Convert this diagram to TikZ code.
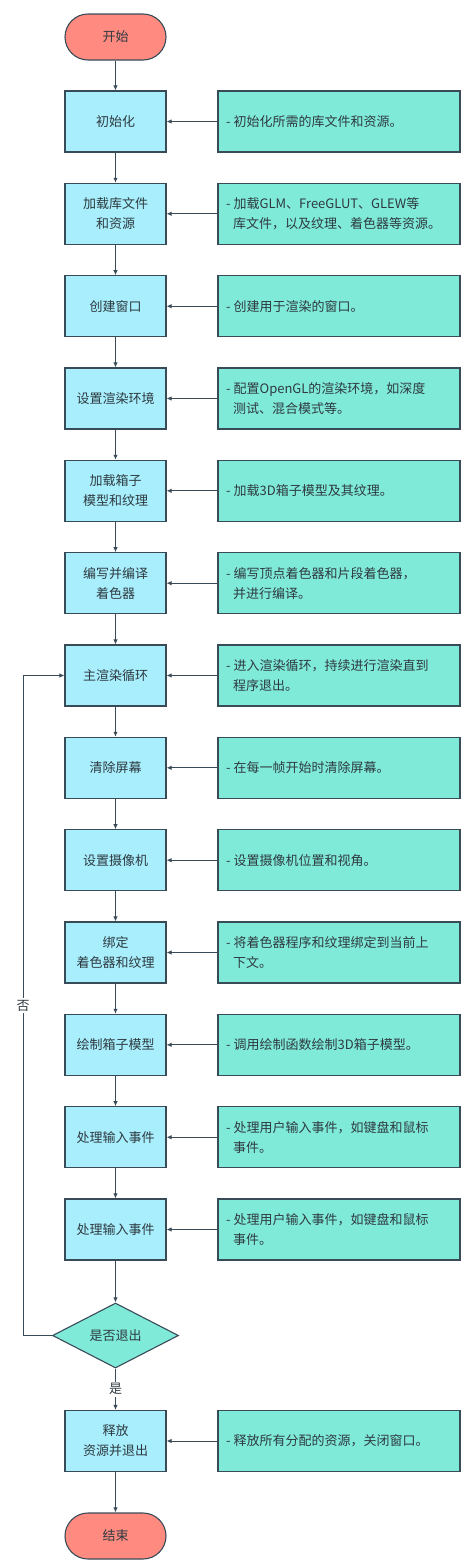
\documentclass[tikz,border=0pt]{standalone}
\usepackage{fontspec}
\setmainfont{Noto Sans CJK SC}
\usetikzlibrary{shapes.geometric,arrows.meta}
\definecolor{termred}{HTML}{FF8A80}
\definecolor{stepblue}{HTML}{A8EEFC}
\definecolor{notegreen}{HTML}{80EAD9}
\definecolor{edgegray}{HTML}{3A4B58}
\definecolor{textgray}{HTML}{2E3A40}
\tikzset{
  every node/.style={font=\fontsize{13pt}{20pt}\selectfont, text=textgray},
  term/.style={draw=edgegray, line width=1.1pt, fill=termred, rounded corners=23pt,
    minimum width=101pt, minimum height=46pt},
  stepbox/.style={draw=edgegray, line width=1.1pt, fill=stepblue, align=center,
    minimum width=101pt, minimum height=61pt, inner sep=2pt},
  notebox/.style={draw=edgegray, line width=1.1pt, fill=notegreen,
    minimum width=242pt, minimum height=61pt},
  notetext/.style={anchor=west, align=left, inner sep=0pt},
  choice/.style={diamond, draw=edgegray, line width=1.1pt, fill=notegreen, aspect=1.94,
    minimum width=126pt, minimum height=65pt, inner sep=0pt},
  flow/.style={draw=edgegray, line width=1pt, -{Latex[length=5pt,width=4.5pt]}},
  tag/.style={fill=white, inner sep=2pt}
}
\newcommand{\ind}{\hspace*{7pt}}
\begin{document}
\begin{tikzpicture}[x=1pt,y=-1pt]
	    \useasboundingbox (0,0) rectangle (474,1566);
	    % main column
	    \node[term] (start) at (115.5, 37) {开始};
	    \node[stepbox] (m1) at (115.5, 121.5) {初始化};
	    \node[stepbox] (m2) at (115.5, 213.8) {加载库文件\\和资源};
	    \node[stepbox] (m3) at (115.5, 306.2) {创建窗口};
	    \node[stepbox] (m4) at (115.5, 398.5) {设置渲染环境};
	    \node[stepbox] (m5) at (115.5, 490.8) {加载箱子\\模型和纹理};
	    \node[stepbox] (m6) at (115.5, 583.2) {编写并编译\\着色器};
	    \node[stepbox] (m7) at (115.5, 675.5) {主渲染循环};
	    \node[stepbox] (m8) at (115.5, 767.8) {清除屏幕};
	    \node[stepbox] (m9) at (115.5, 860.2) {设置摄像机};
	    \node[stepbox] (m10) at (115.5, 952.5) {绑定\\着色器和纹理};
	    \node[stepbox] (m11) at (115.5, 1044.8) {绘制箱子模型};
	    \node[stepbox] (m12) at (115.5, 1137.2) {处理输入事件};
	    \node[stepbox] (m13) at (115.5, 1229.5) {处理输入事件};
	    \node[choice] (quit) at (115.5, 1335.5) {是否退出};
	    \node[stepbox] (m14) at (115.5, 1441) {释放\\资源并退出};
	    \node[term] (stop) at (115.5, 1536) {结束};
	    % notes
	    \node[notebox] (n1) at (339, 121.5) {};
	    \node[notebox] (n2) at (339, 213.8) {};
	    \node[notebox] (n3) at (339, 306.2) {};
	    \node[notebox] (n4) at (339, 398.5) {};
	    \node[notebox] (n5) at (339, 490.8) {};
	    \node[notebox] (n6) at (339, 583.2) {};
	    \node[notebox] (n7) at (339, 675.5) {};
	    \node[notebox] (n8) at (339, 767.8) {};
	    \node[notebox] (n9) at (339, 860.2) {};
	    \node[notebox] (n10) at (339, 952.5) {};
	    \node[notebox] (n11) at (339, 1044.8) {};
	    \node[notebox] (n12) at (339, 1137.2) {};
	    \node[notebox] (n13) at (339, 1229.5) {};
	    \node[notebox] (n14) at (339, 1441) {};
	    \node[notetext] (t1) at (226, 121.5) {- 初始化所需的库文件和资源。};
	    \node[notetext] (t2) at (226, 213.8) {- 加载GLM、FreeGLUT、GLEW等\\\ind 库文件，以及纹理、着色器等资源。};
	    \node[notetext] (t3) at (226, 306.2) {- 创建用于渲染的窗口。};
	    \node[notetext] (t4) at (226, 398.5) {- 配置OpenGL的渲染环境，如深度\\\ind 测试、混合模式等。};
	    \node[notetext] (t5) at (226, 490.8) {- 加载3D箱子模型及其纹理。};
	    \node[notetext] (t6) at (226, 583.2) {- 编写顶点着色器和片段着色器，\\\ind 并进行编译。};
	    \node[notetext] (t7) at (226, 675.5) {- 进入渲染循环，持续进行渲染直到\\\ind 程序退出。};
	    \node[notetext] (t8) at (226, 767.8) {- 在每一帧开始时清除屏幕。};
	    \node[notetext] (t9) at (226, 860.2) {- 设置摄像机位置和视角。};
	    \node[notetext] (t10) at (226, 952.5) {- 将着色器程序和纹理绑定到当前上\\\ind 下文。};
	    \node[notetext] (t11) at (226, 1044.8) {- 调用绘制函数绘制3D箱子模型。};
	    \node[notetext] (t12) at (226, 1137.2) {- 处理用户输入事件，如键盘和鼠标\\\ind 事件。};
	    \node[notetext] (t13) at (226, 1229.5) {- 处理用户输入事件，如键盘和鼠标\\\ind 事件。};
	    \node[notetext] (t14) at (226, 1441) {- 释放所有分配的资源，关闭窗口。};
	    \coordinate (c1) at (23, 1335.5);
	    \coordinate (c2) at (23, 675.5);
	    % arrows
	    \draw[flow] (start) -- (m1);
	    \draw[flow] (m1) -- (m2);
	    \draw[flow] (m2) -- (m3);
	    \draw[flow] (m3) -- (m4);
	    \draw[flow] (m4) -- (m5);
	    \draw[flow] (m5) -- (m6);
	    \draw[flow] (m6) -- (m7);
	    \draw[flow] (m7) -- (m8);
	    \draw[flow] (m8) -- (m9);
	    \draw[flow] (m9) -- (m10);
	    \draw[flow] (m10) -- (m11);
	    \draw[flow] (m11) -- (m12);
	    \draw[flow] (m12) -- (m13);
	    \draw[flow] (m13) -- (quit);
	    \draw[flow] (quit) -- node[tag] (yes) {是} (m14);
	    \draw[flow] (m14) -- (stop);
	    \draw[flow] (quit.west) -- (c1) -- node[tag, pos=0.5] (no) {否} (c2) -- (m7.west);
	    \draw[flow] (n1) -- (m1);
	    \draw[flow] (n2) -- (m2);
	    \draw[flow] (n3) -- (m3);
	    \draw[flow] (n4) -- (m4);
	    \draw[flow] (n5) -- (m5);
	    \draw[flow] (n6) -- (m6);
	    \draw[flow] (n7) -- (m7);
	    \draw[flow] (n8) -- (m8);
	    \draw[flow] (n9) -- (m9);
	    \draw[flow] (n10) -- (m10);
	    \draw[flow] (n11) -- (m11);
	    \draw[flow] (n12) -- (m12);
	    \draw[flow] (n13) -- (m13);
	    \draw[flow] (n14) -- (m14);
\end{tikzpicture}
\end{document}
